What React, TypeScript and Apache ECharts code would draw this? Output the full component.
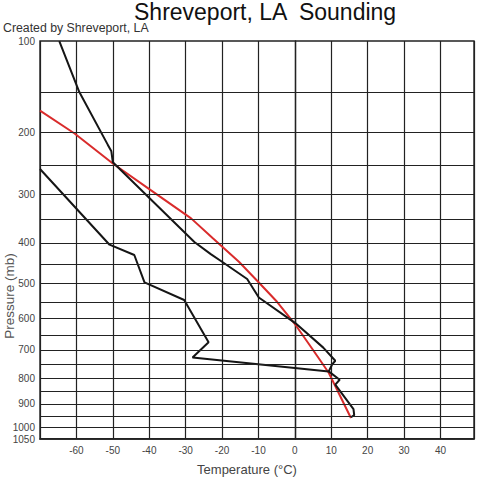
import { useEffect, useRef } from 'react';
import * as echarts from 'echarts';

// pressure axis is drawn on p^0.286 so the spacing matches the original plot
const KAPPA = 0.286;
const py = (p: number) => Math.pow(p, KAPPA);
const fromPy = (v: number) => Math.round(Math.pow(v, 1 / KAPPA));

const PRESSURE_LINES = [100, 150, 200, 250, 300, 350, 400, 450, 500, 550, 600, 650, 700, 750, 800, 850, 900, 950, 1000, 1050];
const PRESSURE_LABELS = [100, 200, 300, 400, 500, 600, 700, 800, 900, 1000, 1050];
const TEMP_TICKS = [-60, -50, -40, -30, -20, -10, 0, 10, 20, 30, 40];

// environmental temperature
const TEMP_P = [100, 150, 218, 228, 245, 398, 426, 445, 488, 538, 614, 692, 737, 751, 775, 806, 824, 921, 946, 955];
const TEMP_T = [-64.7, -59.2, -51.4, -50.4, -50.0, -27.6, -23.1, -19.9, -13.1, -9.9, 0.2, 7.8, 11.1, 10.2, 9.3, 12.3, 11.1, 16.1, 16.3, 15.4];

// dewpoint (joins the temperature trace near 775 mb)
const DEW_P = [256, 404, 428, 497, 545, 674, 726, 775];
const DEW_T = [-70, -50.9, -44.1, -41.3, -30.4, -23.7, -28.1, 9.3];

// lifted parcel
const PARCEL_P = [172, 202, 247, 293, 347, 389, 445, 497, 550, 619, 700, 780, 958];
const PARCEL_T = [-70, -60.5, -50, -39.5, -28.5, -22.6, -15.3, -9.9, -4.9, 0.2, 5.0, 9.3, 15.4];

const toPoints = (ts: number[], ps: number[]) => ts.map((t, i) => [t, py(ps[i])]);

const FONT = '"Liberation Sans", Arial, sans-serif';
const GRID_COLOR = '#222';

export default function App() {
  const chartRef = useRef<HTMLDivElement>(null);

  useEffect(() => {
    if (!chartRef.current) return;
    const chart = echarts.init(chartRef.current, undefined, { renderer: 'svg' });
    chart.setOption({
      animation: false,
      backgroundColor: '#fff',
      title: {
        text: 'Shreveport, LA  Sounding',
        left: 134, top: 0, padding: 0,
        textStyle: { fontFamily: FONT, fontSize: 23, fontWeight: 'normal', color: '#111' },
      },
      graphic: [
        { type: 'text', left: 3, top: 22, style: { text: 'Created by Shreveport, LA', fontFamily: FONT, fontSize: 12.3, fill: '#333' } },
        {
          type: 'text', x: 9, y: 296, rotation: Math.PI / 2,
          style: { text: 'Pressure (mb)', fontFamily: FONT, fontSize: 13.5, fill: '#555', textAlign: 'center', textVerticalAlign: 'middle' },
        },
        {
          type: 'text', x: 247, y: 469,
          style: { text: 'Temperature (°C)', fontFamily: FONT, fontSize: 13, fill: '#444', textAlign: 'center', textVerticalAlign: 'middle' },
        },
      ],
      grid: { left: 40, top: 41, right: 1, bottom: 38, show: true, borderColor: GRID_COLOR, borderWidth: 1.4 },
      xAxis: {
        type: 'value', min: -70, max: 49.2, interval: 10,
        axisLine: { show: true, lineStyle: { color: GRID_COLOR, width: 1.6 } },
        axisTick: { show: false },
        axisLabel: {
          margin: 6, color: '#444', fontFamily: FONT, fontSize: 10,
          formatter: (v: number) => (TEMP_TICKS.includes(v) ? String(v) : ''),
        },
        splitLine: { show: true, lineStyle: { color: GRID_COLOR, width: 1.2 } },
      },
      yAxis: {
        type: 'value', inverse: true, min: py(100) - 0.0005, max: py(1050),
        axisLine: { show: true, lineStyle: { color: GRID_COLOR, width: 1.4 } },
        axisTick: { show: false },
        axisLabel: {
          show: true, margin: 5, color: '#444', fontFamily: FONT, fontSize: 10,
          customValues: PRESSURE_LABELS.map(py),
          formatter: (v: number) => String(fromPy(v)),
        },
        splitLine: { show: false },
      },
      series: [
        {
          name: 'isobars', type: 'line', data: [], z: 1, silent: true,
          markLine: {
            silent: true, symbol: 'none', animation: false,
            lineStyle: { color: GRID_COLOR, width: 1.2, type: 'solid' },
            label: { show: false },
            emphasis: { disabled: true },
            data: PRESSURE_LINES.map(p => ({ yAxis: py(p) })),
          },
        },
        {
          name: 'Parcel', type: 'line', data: toPoints(PARCEL_T, PARCEL_P), z: 3,
          showSymbol: false, silent: true,
          lineStyle: { color: '#d92b2b', width: 2 },
        },
        {
          name: 'Dewpoint', type: 'line', data: toPoints(DEW_T, DEW_P), z: 4,
          showSymbol: false, silent: true,
          lineStyle: { color: '#151515', width: 2 },
        },
        {
          name: 'Temperature', type: 'line', data: toPoints(TEMP_T, TEMP_P), z: 4,
          showSymbol: false, silent: true,
          lineStyle: { color: '#151515', width: 2 },
        },
      ],
    });
    return () => chart.dispose();
  }, []);

  return (
    <div
      ref={chartRef}
      style={{ position: 'fixed', left: 0, top: 0, width: 477, height: 477, background: '#fff' }}
    />
  );
}
